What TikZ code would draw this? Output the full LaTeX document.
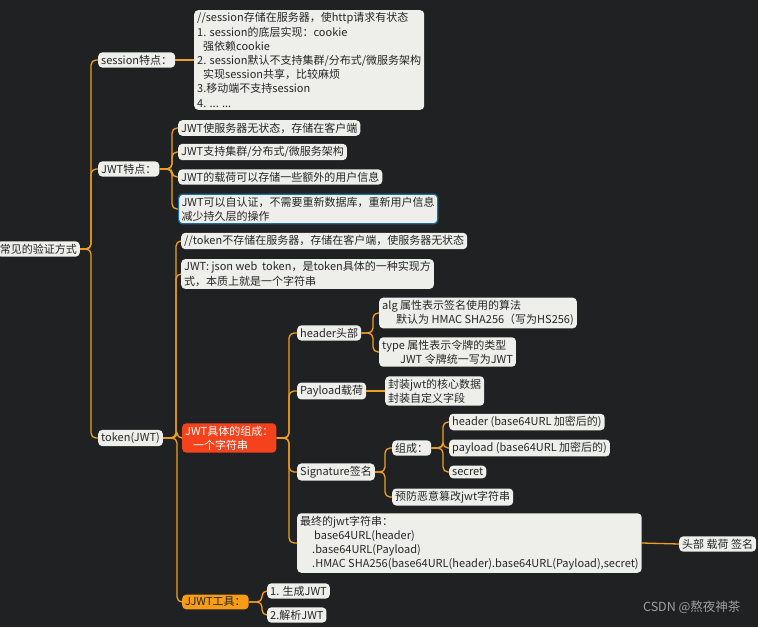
\documentclass[tikz,border=0pt]{standalone}
\usepackage{fontspec}
\setmainfont{Noto Sans CJK SC}
\begin{document}
\begin{tikzpicture}[x=1pt,y=-1pt,
  every node/.style={font=\fontsize{11}{14.2}\selectfont},
  box/.style={draw=none,fill=boxc,rounded corners=4pt,anchor=west,align=left,inner xsep=3pt,inner ysep=2.5pt,text=black!85},
  conn/.style={draw=lineo,line width=1.3pt,rounded corners=5pt}]
\definecolor{bg}{HTML}{1F2123}
\definecolor{boxc}{HTML}{EEEEEA}
\definecolor{lineo}{HTML}{F0A020}
\definecolor{redc}{HTML}{F4421C}
\definecolor{orc}{HTML}{F79C16}
\definecolor{bluec}{HTML}{1A6E9E}
\fill[bg] (0,0) rectangle (758,627);
\clip (0,0) rectangle (758,627);
\useasboundingbox (0,0) rectangle (758,627);
% level 1
\node[box,anchor=east] (root) at (80,249) {常见的验证方式};
\node[box] (sess) at (98,60) {session特点：};
\node[box] (jwtf) at (98,169) {JWT特点：};
\node[box] (tok) at (98,438) {token(JWT)};
% session text
\node[box] (st) at (194,60) {//session存储在服务器，使http请求有状态\\1. session的底层实现：cookie\\\hspace{6pt}强依赖cookie\\2. session默认不支持集群/分布式/微服务架构\\\hspace{6pt}实现session共享，比较麻烦\\3.移动端不支持session\\4. ... ...};
% JWT features
\node[box] (j1) at (178,128) {JWT使服务器无状态，存储在客户端};
\node[box] (j2) at (178,152) {JWT支持集群/分布式/微服务架构};
\node[box] (j3) at (178,177) {JWT的载荷可以存储一些额外的用户信息};
\node[box,draw=bluec,line width=1.2pt] (j4) at (178,209) {JWT可以自认证，不需要重新数据库，重新用户信息\\减少持久层的操作};
% token children
\node[box] (t1) at (181,241) {//token不存储在服务器，存储在客户端，使服务器无状态};
\node[box] (t2) at (181,274) {JWT: json web\ \ token，是token具体的一种实现方\\式，本质上就是一个字符串};
\node[box,fill=redc,text=white] (t3) at (182,438) {JWT具体的组成：\\\hspace{8pt}一个字符串};
\node[box,fill=orc,text=black!85] (t4) at (182,602) {JJWT工具：};
% composition
\node[box] (h) at (297,333) {header头部};
\node[box] (p) at (297,391) {Payload载荷};
\node[box] (s) at (297,472) {Signature签名};
\node[box] (f) at (297,543) {最终的jwt字符串：\\\hspace{14pt}base64URL(header)\\\hspace{12pt}.base64URL(Payload)\\\hspace{12pt}.HMAC SHA256(base64URL(header).base64URL(Payload),secret)};
\node[box] (h1) at (379,313) {alg 属性表示签名使用的算法\\\hspace{14pt}默认为 HMAC SHA256（写为HS256)};
\node[box] (h2) at (379,352) {type 属性表示令牌的类型\\\hspace{18pt}JWT 令牌统一写为JWT};
\node[box] (p1) at (385,391) {封装jwt的核心数据\\封装自定义字段};
\node[box] (s1) at (392,448) {组成：};
\node[box] (s2) at (392,497) {预防恶意篡改jwt字符串};
\node[box] (c1) at (449,422) {header (base64URL 加密后的)};
\node[box] (c2) at (449,448) {payload (base64URL 加密后的)};
\node[box] (c3) at (449,472) {secret};
\node[box] (f1) at (679,544) {头部 载荷 签名};
\node[box] (k1) at (267,591) {1. 生成JWT};
\node[box] (k2) at (267,615) {2.解析JWT};
\node[anchor=east,text=gray!75,font=\fontsize{12.5}{14}\selectfont] (wm) at (744,607) {CSDN @熬夜神茶};
% connectors
\foreach \c in {sess,jwtf,tok}{\draw[conn] (root.east) -| ([xshift=-7pt]\c.west) -- (\c.west);}
\draw[conn] (sess.east) -- (st.west);
\foreach \c in {j1,j2,j3,j4}{\draw[conn] (jwtf.east) -| ([xshift=-6pt]\c.west) -- (\c.west);}
\foreach \c in {t1,t2,t3,t4}{\draw[conn] (tok.east) -| ([xshift=-5pt]\c.west) -- (\c.west);}
\foreach \c in {h,p,s,f}{\draw[conn] (t3.east) -| ([xshift=-8pt]\c.west) -- (\c.west);}
\foreach \c in {h1,h2}{\draw[conn] (h.east) -| ([xshift=-6pt]\c.west) -- (\c.west);}
\draw[conn] (p.east) -- (p1.west);
\foreach \c in {s1,s2}{\draw[conn] (s.east) -| ([xshift=-7pt]\c.west) -- (\c.west);}
\foreach \c in {c1,c2,c3}{\draw[conn] (s1.east) -| ([xshift=-6pt]\c.west) -- (\c.west);}
\draw[conn] (f.east) -- (f1.west);
\foreach \c in {k1,k2}{\draw[conn] (t4.east) -| ([xshift=-5pt]\c.west) -- (\c.west);}
\end{tikzpicture}
\end{document}
